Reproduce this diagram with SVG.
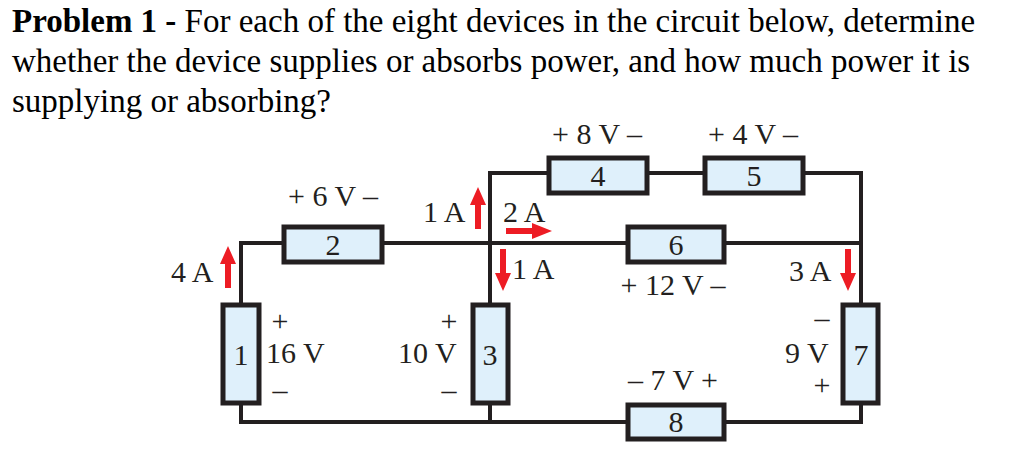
<svg xmlns="http://www.w3.org/2000/svg" width="1024" height="468" viewBox="0 0 1024 468">
<style>
.w{fill:none;stroke:#231f20;stroke-width:4}
.b{fill:#dff0fb;stroke:#231f20;stroke-width:5}
.t{font-family:"Liberation Serif",serif;font-size:30px;fill:#231f20}
.h{font-family:"Liberation Serif",serif;font-size:33px;fill:#000}
.c{text-anchor:middle}
.r{fill:#ed1c24}
</style>
<rect width="1024" height="468" fill="#fff"/>
<text class="h" x="12" y="32"><tspan font-weight="bold">Problem 1 -</tspan> For each of the eight devices in the circuit below, determine</text>
<text class="h" x="12" y="72">whether the device supplies or absorbs power, and how much power it is</text>
<text class="h" x="12" y="112">supplying or absorbing?</text>
<g id="wires">
<path class="w" d="M241,303 V243 H490 H861 V173 H490 V243 M490,243 V422 M241,405 V422 H861 V405 M861,243 V303"/>
</g>
<g id="n1"><rect class="b" x="223" y="305" width="36" height="98"/><text class="t c" x="241" y="365">1</text></g>
<g id="n2"><rect class="b" x="284" y="227" width="98" height="35"/><text class="t c" x="333" y="255">2</text></g>
<g id="n3"><rect class="b" x="473" y="305" width="35" height="98"/><text class="t c" x="490" y="365">3</text></g>
<g id="n4"><rect class="b" x="549" y="158" width="98" height="35"/><text class="t c" x="598" y="186">4</text></g>
<g id="n5"><rect class="b" x="705" y="158" width="98" height="35"/><text class="t c" x="754" y="186">5</text></g>
<g id="n6"><rect class="b" x="628" y="227" width="96" height="35"/><text class="t c" x="676" y="255">6</text></g>
<g id="n7"><rect class="b" x="843" y="305" width="35" height="98"/><text class="t c" x="861" y="365">7</text></g>
<g id="n8"><rect class="b" x="628" y="405" width="96" height="34"/><text class="t c" x="676" y="432">8</text></g>
<g id="arrows">
<path class="r" d="M225,288 V264 H220 L228,246 L236,264 H231 V288 Z"/>
<path class="r" d="M475,229 V205 H470 L478,187 L486,205 H481 V229 Z"/>
<path class="r" d="M506,228 H532 V223 L552,231 L532,239 V234 H506 Z"/>
<path class="r" d="M500,249 V273 H495 L503,291 L511,273 H506 V249 Z"/>
<path class="r" d="M845,249 V273 H840 L848,291 L856,273 H851 V249 Z"/>
</g>
<g id="labels">
<text class="t c" x="597" y="144">+ 8 V –</text>
<text class="t c" x="753" y="144">+ 4 V –</text>
<text class="t c" x="333" y="206">+ 6 V –</text>
<text class="t" x="423" y="222">1 A</text>
<text class="t" x="503" y="222">2 A</text>
<text class="t" x="512" y="279">1 A</text>
<text class="t c" x="673" y="295">+ 12 V –</text>
<text class="t" x="789" y="281">3 A</text>
<text class="t" x="171" y="282">4 A</text>
<text class="t c" x="280" y="331">+</text>
<text class="t" x="266" y="363">16 V</text>
<text class="t c" x="280" y="400">–</text>
<text class="t c" x="449" y="331">+</text>
<text class="t" x="398" y="363">10 V</text>
<text class="t c" x="449" y="400">–</text>
<text class="t c" x="822" y="328">–</text>
<text class="t" x="785" y="363">9 V</text>
<text class="t c" x="822" y="395">+</text>
<text class="t c" x="673" y="390">– 7 V +</text>
</g>
</svg>
